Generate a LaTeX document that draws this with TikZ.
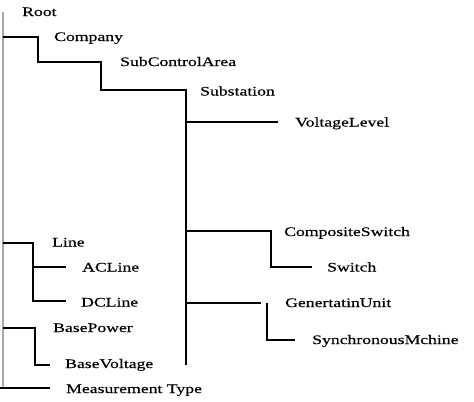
\documentclass[tikz,border=0pt]{standalone}
\usepackage{fontspec}
\setmainfont[FakeStretch=1.36,FakeBold=0.4]{Liberation Serif}
\usepackage{tikz}
\usetikzlibrary{positioning}
\definecolor{RootGray}{HTML}{A8A8A8}
\tikzset{
  lbl/.style={anchor=base west,inner sep=0pt,font=\fontsize{13bp}{15bp}\selectfont},
  branch/.style={line width=2.4bp,black},
}

\begin{document}
\begin{tikzpicture}[x=1bp,y=-1bp]
\useasboundingbox (0,0) rectangle (474,401);
% labels
\node[lbl] (root) at (22,16) {Root};
\node[lbl] (company) at (54,41) {Company};
\node[lbl] (sca) at (120,66) {SubControlArea};
\node[lbl] (subst) at (200,95.5) {Substation};
\node[lbl] (vlevel) at (295,126.5) {VoltageLevel};
\node[lbl] (cswitch) at (284,236) {CompositeSwitch};
\node[lbl] (switch) at (327,271.5) {Switch};
\node[lbl] (genunit) at (285,307) {GenertatinUnit};
\node[lbl] (syncm) at (312,344) {SynchronousMchine};
\node[lbl] (line) at (52,246.5) {Line};
\node[lbl] (acline) at (82,271.5) {ACLine};
\node[lbl] (dcline) at (81,306.5) {DCLine};
\node[lbl] (bpower) at (53,332) {BasePower};
\node[lbl] (bvolt) at (65,368) {BaseVoltage};
\node[lbl] (mtype) at (66,393) {Measurement Type};
% corners
\coordinate (rtop) at (3,12);
\coordinate (rbot) at (3,388);
\coordinate (c1) at (3,37);
\coordinate (c2) at (38,62);
\coordinate (c3) at (101,90);
\coordinate (c4) at (186,365);
\coordinate (vl0) at (186,122);
\coordinate (vl1) at (278,122);
\coordinate (cs0) at (186,231);
\coordinate (cs1) at (271,267);
\coordinate (cs2) at (312,267);
\coordinate (gu0) at (186,303);
\coordinate (gu1) at (261,303);
\coordinate (sm0) at (267,303);
\coordinate (sm1) at (295,340);
\coordinate (ln0) at (3,243);
\coordinate (ln1) at (33,301);
\coordinate (ln2) at (66,301);
\coordinate (ac0) at (33,267);
\coordinate (ac1) at (66,267);
\coordinate (bp0) at (3,328);
\coordinate (bp1) at (35,365);
\coordinate (bp2) at (50,365);
\coordinate (mt0) at (0,388);
\coordinate (mt1) at (50,388);
% tree
\draw[line width=2bp,RootGray] (rtop)--(rbot);
\draw[branch] (c1) -| (c2) -| (c3) -| (c4);
\draw[branch] (vl0)--(vl1);
\draw[branch] (cs0) -| (cs1) -- (cs2);
\draw[branch] (gu0)--(gu1);
\draw[branch] (sm0) |- (sm1);
\draw[branch] (ln0) -| (ln1) -- (ln2);
\draw[branch] (ac0)--(ac1);
\draw[branch] (bp0) -| (bp1) -- (bp2);
\draw[branch] (mt0)--(mt1);
\end{tikzpicture}
\end{document}
